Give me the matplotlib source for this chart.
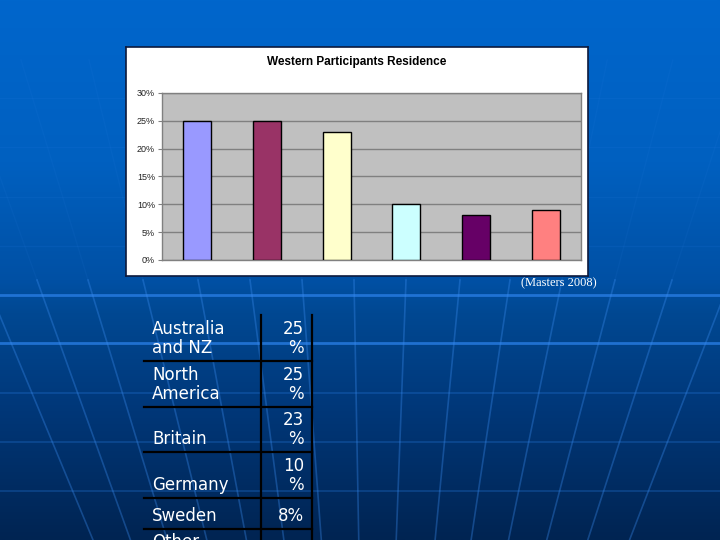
import numpy as np
import matplotlib
matplotlib.use("Agg")
from matplotlib import pyplot as plt
from matplotlib.colors import LinearSegmentedColormap
from matplotlib.ticker import PercentFormatter

# chart data
regions = ["Australia and NZ", "North America", "Britain", "Germany", "Sweden", "Other"]
shares = [25, 25, 23, 10, 8, 9]
bar_colors = ["#9999ff", "#993366", "#ffffcc", "#ccffff", "#660066", "#ff8080"]
y_ticks = [0, 5, 10, 15, 20, 25, 30]

# table text (as wrapped on the slide)
table_labels = ["Australia\nand NZ", "North\nAmerica", "Britain", "Germany", "Sweden", "Other"]
table_values = ["25\n%", "25\n%", "23\n%", "10\n%", "8%", ""]

W, H = 720, 540
fig = plt.figure(figsize=(W / 100, H / 100), dpi=100)

# ---- slide background ----
bg = fig.add_axes([0, 0, 1, 1], zorder=0)
bg.set_xlim(0, W)
bg.set_ylim(H, 0)
bg.axis("off")
cmap = LinearSegmentedColormap.from_list(
    "slide", [(0.0, "#0066cc"), (0.3, "#0060c0"), (0.52, "#0050a4"),
              (0.58, "#004892"), (0.75, "#00387a"), (1.0, "#002452")])
grad = np.linspace(0, 1, 256).reshape(-1, 1)
bg.imshow(grad, cmap=cmap, aspect="auto", extent=[0, W, H, 0])

for y in [98, 147, 197, 246, 295, 343, 393, 442, 491]:
    if 295 <= y <= 343:
        bg.axhline(y, color="#2a80e8", lw=2.0, alpha=0.75)
    elif y < 295:
        bg.axhline(y, color="#2a80e8", lw=1.0, alpha=0.12)
    else:
        bg.axhline(y, color="#2a80e8", lw=1.2, alpha=0.3)

pole_x, pole_y = 371, 1209
for xt in [-15, 37, 88, 143, 198, 250, 302, 354, 406, 460, 510, 562, 615, 672, 730]:
    dx = (xt - pole_x) / (pole_y - 280)
    ys = np.array([60, 280, H])
    xs = xt + dx * (280 - ys)
    bg.plot(xs[:2], ys[:2], color="#3a8cf0", lw=1.0, alpha=0.07)
    bg.plot(xs[1:], ys[1:], color="#3a8cf0", lw=1.2, alpha=0.35)

# ---- chart box ----
box = fig.add_axes([126 / W, 1 - 276 / H, 462 / W, 229 / H], zorder=2)
box.set_facecolor("white")
box.set_xticks([])
box.set_yticks([])
for s in box.spines.values():
    s.set_color("#0d1a3d")
    s.set_linewidth(1.2)

ax = fig.add_axes([162 / W, 1 - 260 / H, 419 / W, 167 / H], zorder=3)
ax.set_facecolor("#c0c0c0")
x = np.arange(len(regions))
ax.bar(x, shares, width=0.4, color=bar_colors, edgecolor="black", linewidth=1, zorder=3)
ax.set_xlim(-0.5, len(regions) - 0.5)
ax.set_ylim(0, 30)
ax.set_yticks(y_ticks)
ax.yaxis.set_major_formatter(PercentFormatter(decimals=0))
ax.set_xticks([])
ax.grid(axis="y", color="#808080", lw=1, zorder=1)
ax.tick_params(axis="y", length=3, width=0.8, color="#808080", pad=2,
               labelsize=6.5, labelcolor="#222222")
for lab in ax.get_yticklabels():
    lab.set_family("Liberation Sans")
for s in ax.spines.values():
    s.set_color("#808080")
    s.set_linewidth(1)

fig.text(357 / W, 1 - 62 / H, "Western Participants Residence", ha="center", va="center",
         fontsize=8.5, fontweight="bold", family="Liberation Sans", color="black", zorder=4)

fig.text(597 / W, 1 - 283 / H, "(Masters 2008)", ha="right", va="center",
         fontsize=9, family="Liberation Serif", color="white")

# ---- table ----
row_edges = [316, 361, 407, 452, 498, 529, 555]
line_h = 19
for i, (lab, val) in enumerate(zip(table_labels, table_values)):
    bottom = row_edges[i + 1]
    for k, part in enumerate(reversed(lab.split("\n"))):
        fig.text(152 / W, 1 - (bottom - 13 - k * line_h) / H, part, ha="left", va="center",
                 fontsize=12, family="DejaVu Sans", color="white")
    if val:
        for k, part in enumerate(reversed(val.split("\n"))):
            fig.text(304 / W, 1 - (bottom - 13 - k * line_h) / H, part, ha="right", va="center",
                     fontsize=12, family="DejaVu Sans", color="white")

for y in row_edges[1:-1]:
    bg.plot([144, 312], [y, y], color="black", lw=1.6)
for xv in [261, 312]:
    bg.plot([xv, xv], [315, H], color="black", lw=1.6)

fig.savefig("out.png", dpi=100)
